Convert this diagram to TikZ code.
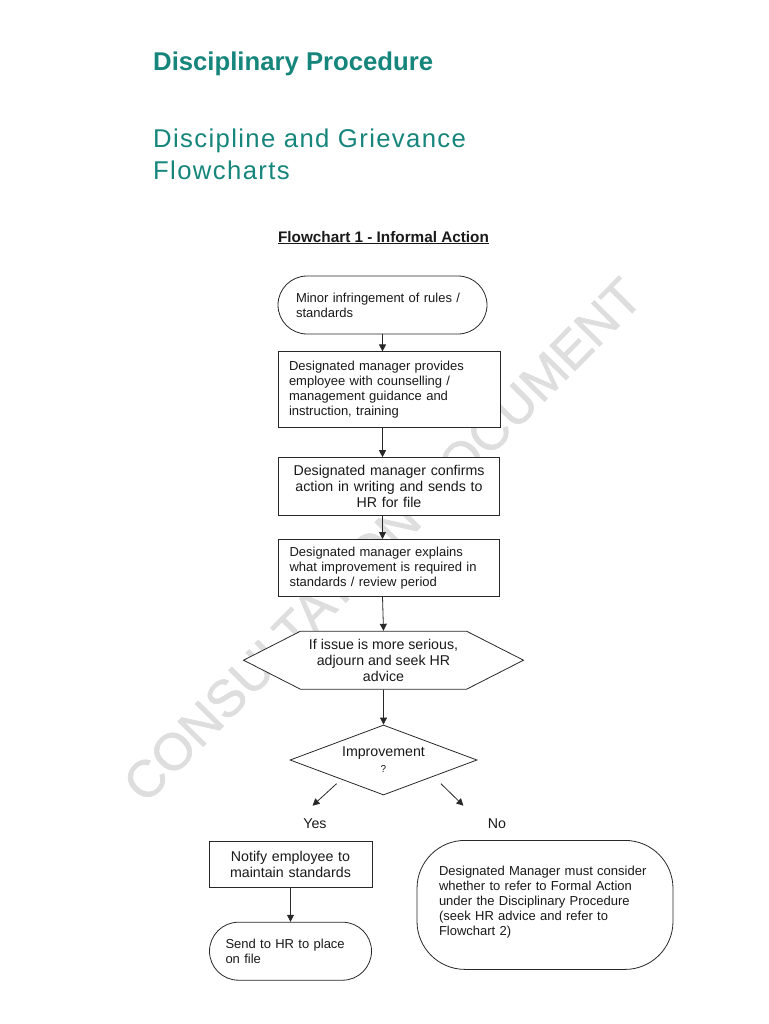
\documentclass[tikz,border=0pt]{standalone}
\usepackage{fontspec}
\setmainfont{Liberation Sans}
\newfontfamily\spacedfont[LetterSpace=5.3]{Liberation Sans}
\newfontfamily\stampfont[FakeBold=1.2]{Liberation Sans}
\usetikzlibrary{arrows.meta, positioning, calc, shapes.geometric, shapes.symbols}

\definecolor{titleteal}{RGB}{22,133,124}
\definecolor{boxline}{RGB}{40,40,40}
\definecolor{watermark}{RGB}{222,222,222}

\newcommand{\smalltxt}{\fontsize{13}{15}\selectfont}
\newcommand{\midtxt}{\fontsize{14.2}{16}\selectfont}

\begin{document}
\begin{tikzpicture}[
	every node/.style={text=black!90},
	block/.style={
		rectangle, draw=boxline, fill=white, line width=0.8pt,
		inner ysep=2pt, font=\smalltxt, align=left
	},
	terminal/.style={block, rounded corners=29pt},
	decision/.style={
		diamond, draw=boxline, fill=white, line width=0.8pt, inner sep=0pt, shape aspect=2.67,
		minimum width=187pt, minimum height=70pt, align=center, font=\midtxt
	},
	hexagon/.style={
		signal, signal to=west and east, signal pointer angle=54,
		draw=boxline, fill=white, line width=0.8pt, minimum width=280pt, minimum height=58pt,
		align=center, font=\midtxt
	},
	answer/.style={font=\midtxt, inner sep=0pt},
	arrow/.style={-{Triangle[length=7pt, width=7pt]}, line width=0.8pt, draw=boxline}
	]
	\useasboundingbox (0,0) rectangle (768pt,-1024pt);

	% Watermark
	\node[rotate=45.3, text=watermark, font=\fontsize{52}{52}\selectfont\stampfont] (stamp) at (382.5pt,-540pt) {CONSULTATION DOCUMENT};

	% Headings
	\node[anchor=base west, inner sep=0pt, text=titleteal, font=\fontsize{25.7}{30}\selectfont\bfseries] (title) at (153pt,-71pt) {Disciplinary Procedure};
	\node[anchor=base west, inner sep=0pt, text=titleteal, font=\fontsize{25.7}{32}\selectfont\spacedfont] (subtitle) at (153pt,-148pt) {Discipline and Grievance};
	\node[anchor=base west, inner sep=0pt, text=titleteal, font=\fontsize{25.7}{32}\selectfont\spacedfont] (subtitle2) at (153pt,-180pt) {Flowcharts};
	\node[anchor=base, inner sep=0pt, font=\fontsize{15.3}{18}\selectfont\bfseries] (heading) at (383.5pt,-242pt) {\underline{Flowchart 1 - Informal Action}};

	% Nodes
	\node[terminal, text width=173pt, inner xsep=18pt, minimum height=58pt] (minor) at (382.5pt,-305pt) {Minor infringement of rules /\\ standards};
	\node[block, text width=200pt, inner xsep=11pt, minimum height=76pt, below=17pt of minor, xshift=6.5pt] (counsel) {Designated manager provides\\ employee with counselling /\\ management guidance and\\ instruction, training};
	\node[block, text width=199pt, inner xsep=11pt, minimum height=58pt, align=center, font=\midtxt, below=29pt of counsel] (confirm) {Designated manager confirms\\ action in writing and sends to\\ HR for file};
	\node[block, text width=199pt, inner xsep=11pt, minimum height=57pt, below=23pt of confirm] (explain) {Designated manager explains\\ what improvement is required in\\ standards / review period};
	\node[hexagon, below=34pt of explain, xshift=-5.5pt] (serious) {If issue is more serious,\\ adjourn and seek HR\\ advice};
	\node[decision, below=35pt of serious] (improve) {Improvement\\ {\fontsize{10}{11}\selectfont ?}};
	\node[answer] (yes) at ($(improve.south)+(-68.5pt,-28pt)$) {Yes};
	\node[answer] (no) at ($(improve.south)+(113.5pt,-28pt)$) {No};
	\node[block, text width=141pt, inner xsep=11pt, minimum height=46pt, align=center, font=\midtxt] (notify) at ($(improve.south)+(-93pt,-69pt)$) {Notify employee to\\ maintain standards};
	\node[terminal, text width=130pt, inner xsep=16pt, minimum height=58pt, below=34pt of notify] (send) {Send to HR to place\\ on file};
	\node[block, rounded corners=48pt, text width=212pt, inner xsep=22pt, minimum height=129pt] (consider) at ($(improve.south)+(161.5pt,-109.5pt)$) {Designated Manager must consider\\ whether to refer to Formal Action\\ under the Disciplinary Procedure\\ (seek HR advice and refer to\\ Flowchart 2)\\[-6pt] \mbox{}};

	% Arrows
	\coordinate (yes-tip) at ([shift={(-24pt,-28pt)}]improve.south west);
	\coordinate (no-tip) at ([shift={(33pt,-28pt)}]improve.south east);
	\draw[arrow] (minor.south) -- (minor.south |- counsel.north);
	\draw[arrow] (counsel.south -| minor.south) -- (confirm.north -| minor.south);
	\draw[arrow] (confirm.south -| minor.south) -- (explain.north -| minor.south);
	\draw[arrow] (explain.south -| minor.south) -- (serious.north);
	\draw[arrow] (serious) -- (improve);
	\draw[arrow] ([yshift=-6pt]improve.south west) -- (yes-tip);
	\draw[arrow] ([shift={(10.5pt,-6pt)}]improve.south east) -- (no-tip);
	\draw[arrow] (notify) -- (send);
\end{tikzpicture}
\end{document}
